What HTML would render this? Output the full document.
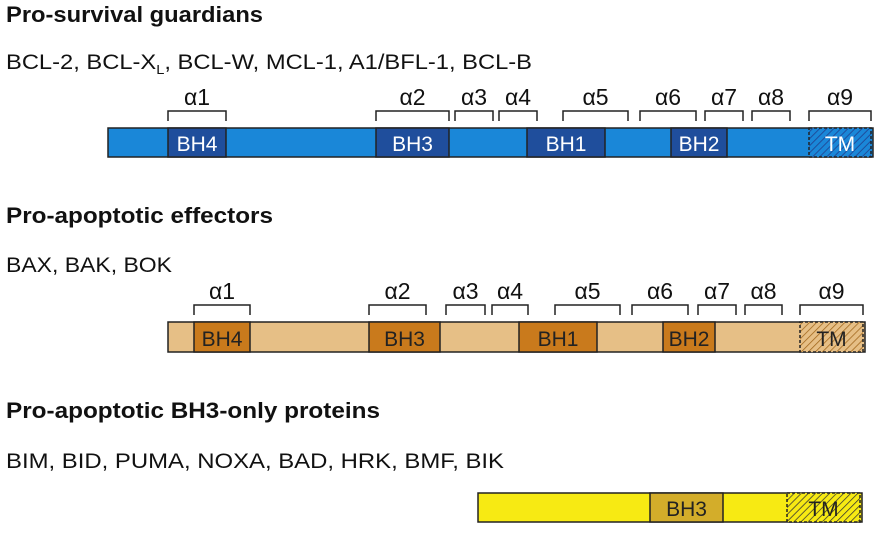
<!DOCTYPE html>
<html><head><meta charset="utf-8"><style>
body{margin:0;background:#fff;}
svg text{font-family:"Liberation Sans","Noto Sans CJK SC",sans-serif;}
</style></head><body>
<svg width="885" height="533" viewBox="0 0 885 533">
<defs>
<pattern id="h1" width="5" height="5" patternUnits="userSpaceOnUse" patternTransform="rotate(45)"><rect width="5" height="5" fill="#1a87d8"/><line x1="0" y1="0" x2="0" y2="5" stroke="#1f4e9c" stroke-width="2"/></pattern>
<pattern id="h2" width="5" height="5" patternUnits="userSpaceOnUse" patternTransform="rotate(45)"><rect width="5" height="5" fill="#e6bf86"/><line x1="0" y1="0" x2="0" y2="5" stroke="#a0651a" stroke-width="1.5"/></pattern>
<pattern id="h3" width="5" height="5" patternUnits="userSpaceOnUse" patternTransform="rotate(45)"><rect width="5" height="5" fill="#f7ea13"/><line x1="0" y1="0" x2="0" y2="5" stroke="#333" stroke-width="1.5"/></pattern>
</defs>
<g id="root"></g>
</svg>
<script>
const sections=[
 {title:"Pro-survival guardians",tw:257,ty:22,list:"BCL-2, BCL-X",sub:"L",rest:",  BCL-W, MCL-1, A1/BFL-1, BCL-B",lw:526,ly:69,
  bar:[108,873,128,157],bg:"#1a87d8",dark:"#1f4e9c",txt:"#fff",hatch:"url(#h1)",
  doms:[["BH4",168,226],["BH3",376,449],["BH1",527,605],["BH2",671,727]],tm:[809,871],
  br:[[168,226],[376,449],[455,493],[499,537],[563,628],[640,696],[705,743],[752,790],[809,871]],by:111},
 {title:"Pro-apoptotic effectors",tw:267,ty:223,list:"BAX, BAK, BOK",lw:166,ly:272,
  bar:[168,865,322,352],bg:"#e6bf86",dark:"#c97a1c",txt:"#222",hatch:"url(#h2)",
  doms:[["BH4",194,250],["BH3",369,440],["BH1",519,597],["BH2",663,715]],tm:[800,863],
  br:[[194,250],[369,426],[446,485],[492,528],[555,620],[632,688],[698,736],[745,782],[800,863]],by:305},
 {title:"Pro-apoptotic BH3-only proteins",tw:374,ty:418,list:"BIM, BID, PUMA, NOXA, BAD, HRK, BMF, BIK",lw:498,ly:468,
  bar:[478,862,493,522],bg:"#f7ea13",dark:"#d3ad2a",txt:"#222",hatch:"url(#h3)",
  doms:[["BH3",650,723]],tm:[787,860],br:[],by:0}
];
const NS="http://www.w3.org/2000/svg",root=document.getElementById('root');
function mk(t,a,p){const e=document.createElementNS(NS,t);for(const k in a)e.setAttribute(k,a[k]);(p||root).appendChild(e);return e;}
sections.forEach((s,i)=>{
 const g=mk('g',{});
 
 
 const t=mk('text',{x:6,y:s.ty,'font-size':22,'font-weight':'bold',fill:'#111',textLength:s.tw,lengthAdjust:'spacingAndGlyphs'},g);t.textContent=s.title;
 
 
 const l=mk('text',{x:6,y:s.ly,'font-size':21,fill:'#111',textLength:s.lw,lengthAdjust:'spacingAndGlyphs'},g);
 
 
 l.appendChild(document.createTextNode(s.list));
 if(s.sub){const ts=mk('tspan',{'font-size':13,dy:5},l);ts.textContent=s.sub;const r=mk('tspan',{dy:-5},l);r.textContent=s.rest;}
 const [x1,x2,y1,y2]=s.bar;
 const b=mk('rect',{x:x1,y:y1,width:x2-x1,height:y2-y1,fill:s.bg,stroke:'#222','stroke-width':1.5},g);
 
 
 s.doms.forEach(d=>{
  const r=mk('rect',{x:d[1],y:y1,width:d[2]-d[1],height:y2-y1,fill:s.dark,stroke:'#222','stroke-width':1.5},g);
  
  
  const tx=mk('text',{x:(d[1]+d[2])/2,y:y2-6,'font-size':21,'text-anchor':'middle',fill:s.txt},g);tx.textContent=d[0];
 });
 const tm=mk('rect',{x:s.tm[0],y:y1,width:s.tm[1]-s.tm[0],height:y2-y1,fill:s.hatch,stroke:'#222','stroke-width':1.5,'stroke-dasharray':'3,2'},g);
 
 
 const tt=mk('text',{x:(s.tm[0]+s.tm[1])/2,y:y2-6,'font-size':21,'text-anchor':'middle',fill:s.txt},g);tt.textContent='TM';
 s.br.forEach((c,j)=>{
  const p=mk('path',{d:`M${c[0]},${s.by+10}V${s.by}H${c[1]}V${s.by+10}`,fill:'none',stroke:'#222','stroke-width':1.5},g);
  
  
  const a=mk('text',{x:(c[0]+c[1])/2,y:s.by-6,'font-size':23,'text-anchor':'middle',fill:'#111'},g);
  a.textContent='α'+(j+1);
  
  
 });
});
</script>
</body></html>
